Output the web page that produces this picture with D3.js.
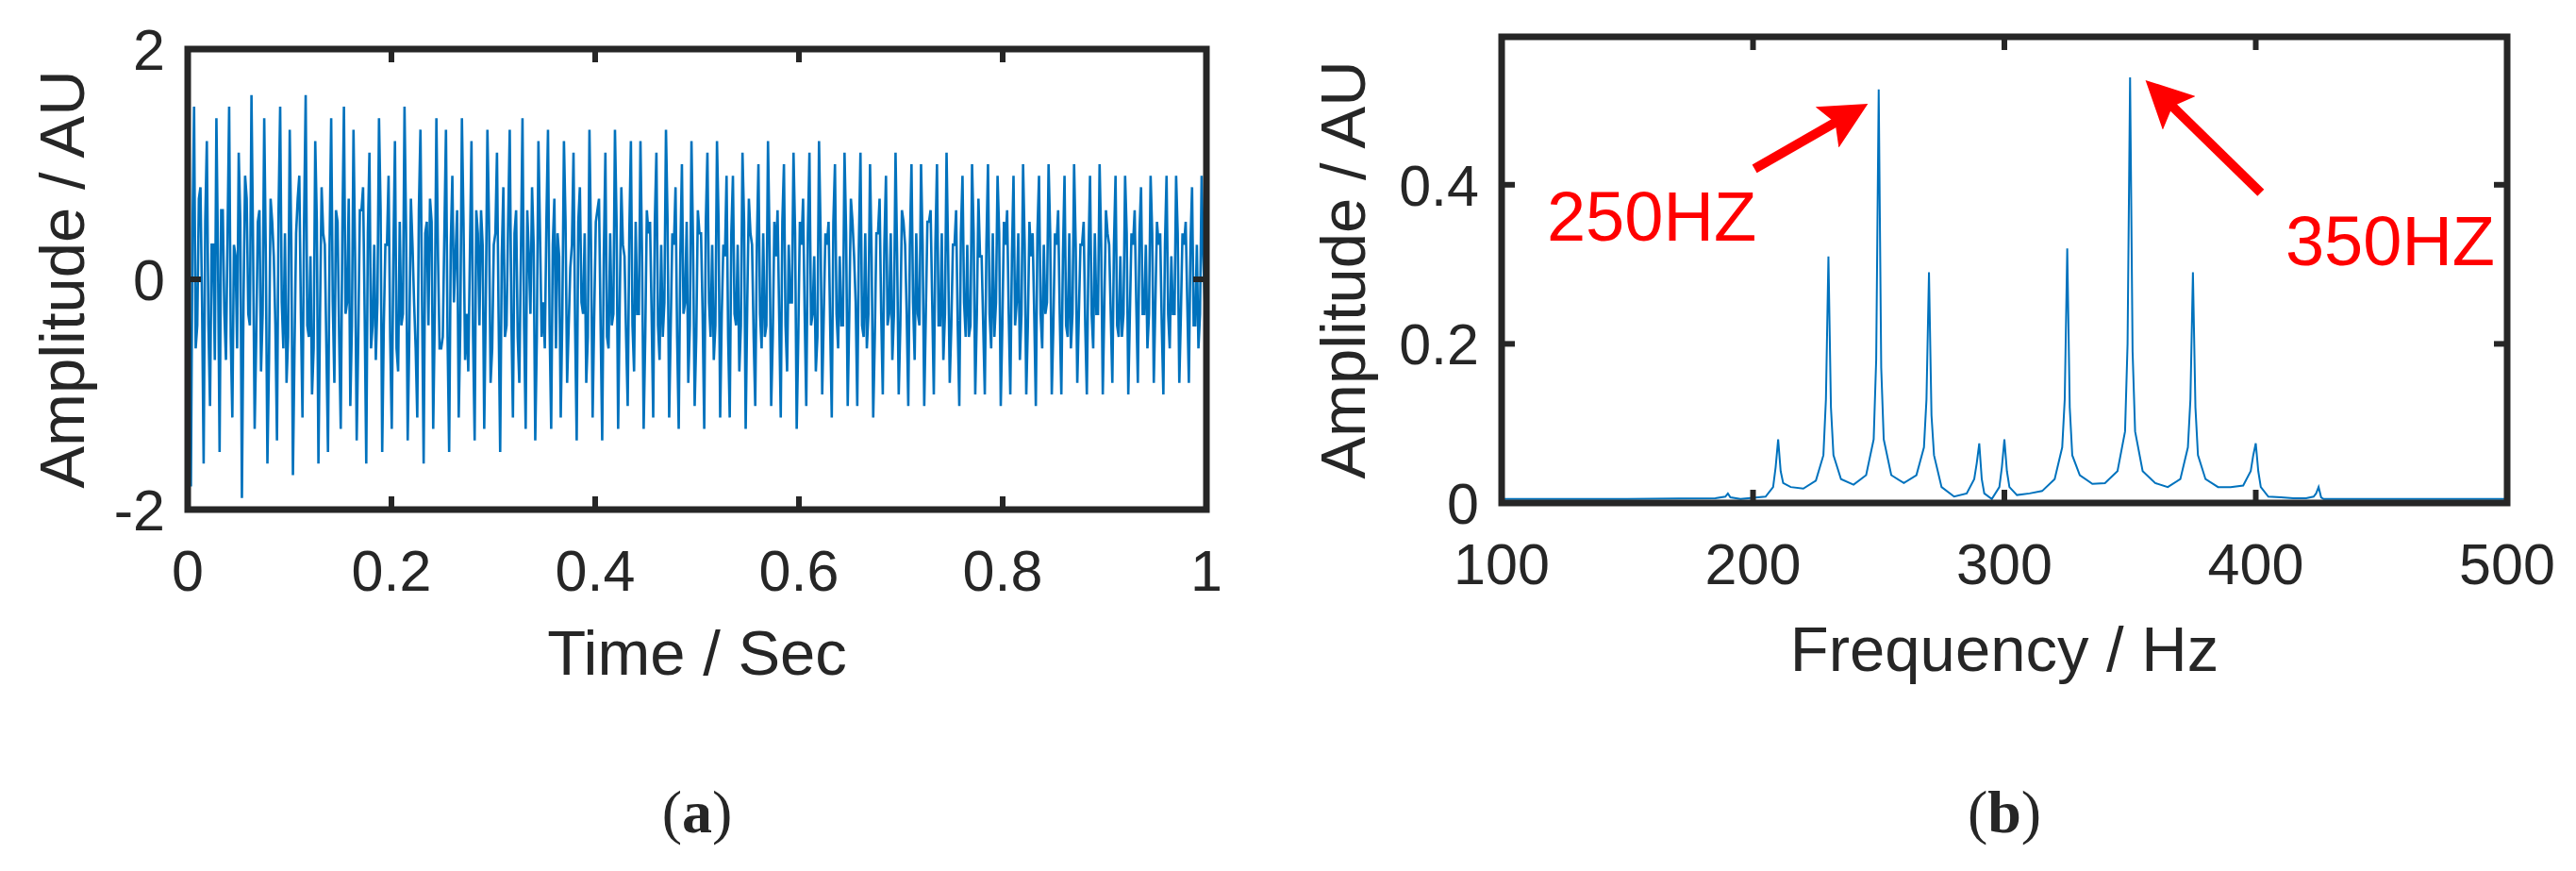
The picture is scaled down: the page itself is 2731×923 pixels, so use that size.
<!DOCTYPE html>
<html>
<head>
<script src="https://d3js.org/d3.v7.min.js"></script>
<style>
  body { margin: 0; background: #fff; }
  text { font-family: "Liberation Sans", Arial, sans-serif; fill: #262626; }
</style>
</head>
<body>
<svg width="2731" height="923"></svg>
<script>
// panel (a): time signal, evenly spaced over 0..1 s (odd and even samples)
const signalOdd = [
  0.9,-1.8,1.5,-0.4,0.8,-1.6,1.2,-1.1,0.3,1.4,-1.5,0.6,-0.7,1.5,-1.2,0.2,1.1,-1.9,0.9,-0.3,
  1.6,-1.3,0.5,-0.8,1.4,-1.6,0.7,0.2,-1.4,1.5,-0.6,-0.9,1.3,-1.7,0.4,0.9,-1.2,1.6,-0.5,-1.0,
  1.2,-1.6,0.8,0.3,-1.5,1.4,-0.9,0.5,-1.3,1.5,-0.2,-1.1,1.3,-1.4,0.6,0.8,-1.6,1.1,-0.4,-0.7,
  1.4,-1.5,0.3,0.9,-1.3,1.2,-0.8,-0.4,1.5,-1.4,0.7,-0.2,-1.2,1.3,-1.6,0.5,0.7,-1.3,1.4,-0.6,
  -0.5,1.3,-1.5,0.9,0.2,-1.2,1.4,-0.7,-0.8,1.2,-1.4,0.4,0.6,-1.3,1.3,-0.9,0.3,1.1,-1.5,0.8,
  -0.4,1.3,-1.2,0.6,-0.9,1.4,-1.3,0.2,0.8,-1.4,1.2,-0.5,-0.6,1.3,-1.3,0.7,0.4,-1.2,1.2,-0.9,
  0.1,1.1,-1.4,0.8,-0.3,-0.9,1.3,-1.2,0.5,0.7,-1.4,1.1,-0.6,-0.4,1.3,-1.3,0.8,0.2,-1.1,1.2,
  -0.8,-0.3,1.2,-1.3,0.6,0.5,-1.2,1.1,-0.7,-0.5,1.3,-1.2,0.4,0.8,-1.3,1.0,-0.2,-0.9,1.2,-1.1,
  0.6,0.4,-1.3,1.1,-0.5,-0.7,1.2,-1.2,0.3,0.9,-1.2,0.9,-0.4,-0.8,1.1,-1.3,0.7,0.3,-1.1,1.0,
  -0.6,-0.5,1.2,-1.1,0.5,0.6,-1.2,1.0,-0.8,-0.2,1.1,-1.3,0.5,0.7,-1.1,1.1,-0.3,-0.8,1.2,-1.0,
  0.4,0.5,-1.2,1.0,-0.6,-0.4,1.1,-1.1,0.7,0.2,-1.1,1.1,-0.5,-0.6,1.0,-1.2,0.4,0.7,-1.0,0.9,
  -0.3,-0.7,1.1,-1.0,0.6,0.3,-1.1,1.0,-0.7,-0.3,1.0,-1.1,0.5,0.6,-1.0,1.0,-0.4,-0.7,1.1,-0.9,
  0.3,0.6,-1.1,0.9,-0.5,-0.5,1.0,-1.0,0.7,0.2,-1.0,1.0,-0.6,-0.5,0.9,-1.1,0.5,0.6,-1.0,0.9,
  -0.2,-0.7,1.0,-1.0,0.5,0.4,-1.1,0.9,-0.6,-0.3,1.0,-1.0,0.4,0.6,-1.0,0.9,-0.5,-0.6,1.0,-0.9,
  0.3,0.5,-1.0,0.9,-0.6,-0.3,1.0,-1.0,0.6,0.3,-0.9,0.9,-0.5,-0.5,0.9,-1.0,0.4,0.6,-0.9,0.8,
  -0.3,-0.6,0.9,-0.9,0.5,0.4,-1.0,0.9,-0.6,-0.3,0.9,-0.9,0.4,0.5,-0.9,0.8,-0.4,-0.6,0.9,-0.2
];
const signalEven = [
  -0.3,0.4,-0.6,0.7,-0.2,0.5,-0.4,0.3,-0.7,0.2,0.6,-0.3,0.4,-0.5,0.3,-0.6,0.5,-0.2,0.7,-0.4,
  0.3,-0.5,0.6,-0.3,0.2,-0.7,0.5,-0.4,0.6,-0.2,0.4,-0.5,0.3,-0.6,0.7,-0.3,0.5,-0.4,0.2,-0.6,
  0.5,-0.3,0.4,-0.6,0.3,-0.2,0.6,-0.5,0.4,-0.3,0.7,-0.4,0.2,-0.5,0.6,-0.3,0.4,-0.6,0.3,-0.2,
  0.6,-0.4,0.3,-0.5,0.2,-0.6,0.5,-0.3,0.4,-0.5,0.3,-0.6,0.6,-0.2,0.4,-0.4,0.5,-0.3,0.2,-0.6,
  0.4,-0.5,0.3,-0.2,0.6,-0.4,0.5,-0.3,0.2,-0.5,0.6,-0.4,0.3,-0.2,0.5,-0.6,0.4,-0.3,0.2,-0.5,
  0.5,-0.3,0.4,-0.5,0.2,-0.4,0.6,-0.3,0.3,-0.5,0.4,-0.2,0.5,-0.4,0.3,-0.6,0.2,-0.3,0.5,-0.4,
  0.3,-0.4,0.5,-0.2,0.4,-0.5,0.3,-0.3,0.6,-0.4,0.2,-0.5,0.4,-0.3,0.5,-0.2,0.3,-0.5,0.4,-0.4,
  0.5,-0.3,0.2,-0.5,0.4,-0.3,0.5,-0.4,0.3,-0.2,0.5,-0.4,0.3,-0.5,0.2,-0.3,0.5,-0.4,0.3,-0.5,
  0.4,-0.3,0.5,-0.2,0.3,-0.4,0.5,-0.3,0.2,-0.5,0.4,-0.3,0.3,-0.4,0.5,-0.2,0.4,-0.5,0.3,-0.3,
  0.4,-0.4,0.3,-0.5,0.2,-0.3,0.5,-0.4,0.3,-0.2,0.4,-0.5,0.3,-0.3,0.4,-0.4,0.2,-0.5,0.4,-0.3,
  0.3,-0.4,0.5,-0.3,0.2,-0.4,0.4,-0.3,0.5,-0.2,0.3,-0.4,0.4,-0.3,0.2,-0.5,0.4,-0.3,0.3,-0.4,
  0.4,-0.3,0.2,-0.4,0.5,-0.3,0.3,-0.2,0.4,-0.4,0.3,-0.3,0.5,-0.2,0.3,-0.4,0.4,-0.3,0.2,-0.4,
  0.3,-0.4,0.4,-0.2,0.3,-0.4,0.4,-0.3,0.2,-0.4,0.3,-0.3,0.4,-0.2,0.4,-0.4,0.3,-0.3,0.2,-0.4,
  0.4,-0.3,0.3,-0.4,0.2,-0.3,0.4,-0.3,0.3,-0.2,0.4,-0.4,0.3,-0.3,0.2,-0.4,0.4,-0.3,0.3,-0.3,
  0.3,-0.4,0.2,-0.3,0.4,-0.3,0.3,-0.2,0.4,-0.3,0.3,-0.4,0.2,-0.3,0.4,-0.3,0.3,-0.2,0.4,-0.3,
  0.3,-0.3,0.4,-0.2,0.3,-0.4,0.3,-0.3,0.2,-0.3,0.4,-0.3,0.3,-0.2,0.3,-0.4,0.3,-0.3,0.2,0.1
];
const timeTicks = [0, 0.2, 0.4, 0.6, 0.8, 1];
const ampTicksA = [-2, 0, 2];

// panel (b): spectrum
const freq = [100,150,185,189,190,191,195,205,208,209,210,211,212,215,220,225,228,229,230,231,232,235,240,245,248,249,250,251,252,255,260,265,268,269,270,271,272,275,280,285,288,289,290,291,292,295,298,299,300,301,302,305,310,315,320,323,324,325,326,327,330,335,340,345,348,349,350,351,352,355,360,365,370,373,374,375,376,377,380,385,390,395,398,399,400,401,402,405,410,415,420,423,424,425,426,427,430,450,500];
const amp = [0.005,0.005,0.006,0.008,0.012,0.007,0.005,0.008,0.02,0.045,0.08,0.04,0.025,0.02,0.018,0.028,0.06,0.13,0.31,0.12,0.06,0.03,0.023,0.035,0.08,0.18,0.52,0.17,0.08,0.035,0.025,0.035,0.07,0.13,0.29,0.11,0.06,0.02,0.008,0.012,0.03,0.05,0.075,0.03,0.012,0.005,0.02,0.045,0.08,0.04,0.02,0.01,0.012,0.015,0.03,0.07,0.13,0.32,0.12,0.06,0.035,0.024,0.025,0.04,0.09,0.2,0.535,0.19,0.09,0.04,0.025,0.02,0.03,0.07,0.13,0.29,0.12,0.06,0.03,0.02,0.02,0.022,0.04,0.06,0.075,0.04,0.02,0.008,0.007,0.006,0.006,0.008,0.012,0.02,0.007,0.005,0.005,0.005,0.005];
const freqTicks = [100, 200, 300, 400, 500];
const ampTicksB = [0, 0.2, 0.4];
// label text; arrow tail and tip in data units (Hz, AU)
const peakLabels = [
  {text: "250HZ", lx: 118, ly: 0.33, tail: [200.6, 0.42], tip: [239.2, 0.49]},
  {text: "350HZ", lx: 411.8, ly: 0.299, tail: [402, 0.39], tip: [361.5, 0.515]}
];

const signal = d3.merge(signalOdd.map((v, i) => [v, signalEven[i]]));

const svg = d3.select("svg");
const blue = "#0072BD", dark = "#262626";

svg.append("defs").append("marker")
  .attr("id", "head").attr("viewBox", "0 0 10 10")
  .attr("refX", 6).attr("refY", 5)
  .attr("markerWidth", 5).attr("markerHeight", 5)
  .attr("orient", "auto")
  .append("path").attr("d", "M0,0 L10,5 L0,10 L2,5 z").attr("fill", "#ff0000");

function frame(g, x, y, xt, yt, xfmt, yfmt, w, h) {
  const tl = 14;
  xt.forEach(t => {
    g.append("line").attr("x1", x(t)).attr("x2", x(t)).attr("y1", h).attr("y2", h - tl).attr("stroke", dark).attr("stroke-width", 6);
    g.append("line").attr("x1", x(t)).attr("x2", x(t)).attr("y1", 0).attr("y2", tl).attr("stroke", dark).attr("stroke-width", 6);
    g.append("text").attr("x", x(t)).attr("y", h + 86).attr("text-anchor", "middle")
      .style("font-size", "61px").text(xfmt(t));
  });
  yt.forEach(t => {
    g.append("line").attr("x1", 0).attr("x2", tl).attr("y1", y(t)).attr("y2", y(t)).attr("stroke", dark).attr("stroke-width", 6);
    g.append("line").attr("x1", w).attr("x2", w - tl).attr("y1", y(t)).attr("y2", y(t)).attr("stroke", dark).attr("stroke-width", 6);
    g.append("text").attr("x", -24).attr("y", y(t)).attr("dy", "0.36em").attr("text-anchor", "end")
      .style("font-size", "61px").text(yfmt(t));
  });
  g.append("rect").attr("width", w).attr("height", h).attr("fill", "none")
    .attr("stroke", dark).attr("stroke-width", 7);
}

// ---- panel (a)
const wA = 1080, hA = 488;
const gA = svg.append("g").attr("transform", "translate(199,52)");
const xA = d3.scaleLinear().domain([0, 1]).range([0, wA]);
const yA = d3.scaleLinear().domain([-2, 2]).range([hA, 0]);
gA.append("path")
  .datum(signal)
  .attr("fill", "none").attr("stroke", blue).attr("stroke-width", 2.6)
  .attr("d", d3.line().x((d, i) => xA(i / (signal.length - 1))).y(d => yA(d)));
frame(gA, xA, yA, timeTicks, ampTicksA, d => d3.format("~g")(d), d => d, wA, hA);
gA.append("text").attr("x", wA / 2).attr("y", hA + 175).attr("text-anchor", "middle")
  .style("font-size", "67px").text("Time / Sec");
gA.append("text").attr("transform", `translate(-110,${hA / 2}) rotate(-90)`)
  .attr("text-anchor", "middle").style("font-size", "67px").text("Amplitude / AU");
svg.append("text").attr("x", 199 + wA / 2).attr("y", 882).attr("text-anchor", "middle")
  .style("font-family", "'Liberation Serif', serif").style("font-size", "64px")
  .html('(<tspan font-weight="bold">a</tspan>)');

// ---- panel (b)
const wB = 1066, hB = 494;
const gB = svg.append("g").attr("transform", "translate(1592,39)");
const xB = d3.scaleLinear().domain([100, 500]).range([0, wB]);
const yB = d3.scaleLinear().domain([0, 0.586]).range([hB, 0]);
gB.append("path")
  .datum(freq.map((f, i) => [f, amp[i]]))
  .attr("fill", "none").attr("stroke", blue).attr("stroke-width", 2)
  .attr("d", d3.line().x(d => xB(d[0])).y(d => yB(d[1])));
frame(gB, xB, yB, freqTicks, ampTicksB, d => d, d => d3.format("~g")(d), wB, hB);
gB.append("text").attr("x", wB / 2).attr("y", hB + 178).attr("text-anchor", "middle")
  .style("font-size", "67px").text("Frequency / Hz");
gB.append("text").attr("transform", `translate(-145,${hB / 2}) rotate(-90)`)
  .attr("text-anchor", "middle").style("font-size", "67px").text("Amplitude / AU");
svg.append("text").attr("x", 1592 + wB / 2).attr("y", 882).attr("text-anchor", "middle")
  .style("font-family", "'Liberation Serif', serif").style("font-size", "64px")
  .html('(<tspan font-weight="bold">b</tspan>)');

peakLabels.forEach(p => {
  gB.append("line")
    .attr("x1", xB(p.tail[0])).attr("y1", yB(p.tail[1]))
    .attr("x2", xB(p.tip[0])).attr("y2", yB(p.tip[1]))
    .attr("stroke", "#ff0000").attr("stroke-width", 10).attr("marker-end", "url(#head)");
  gB.append("text").attr("x", xB(p.lx)).attr("y", yB(p.ly))
    .style("fill", "#ff0000").style("font-size", "74px").text(p.text);
});
</script>
</body>
</html>
